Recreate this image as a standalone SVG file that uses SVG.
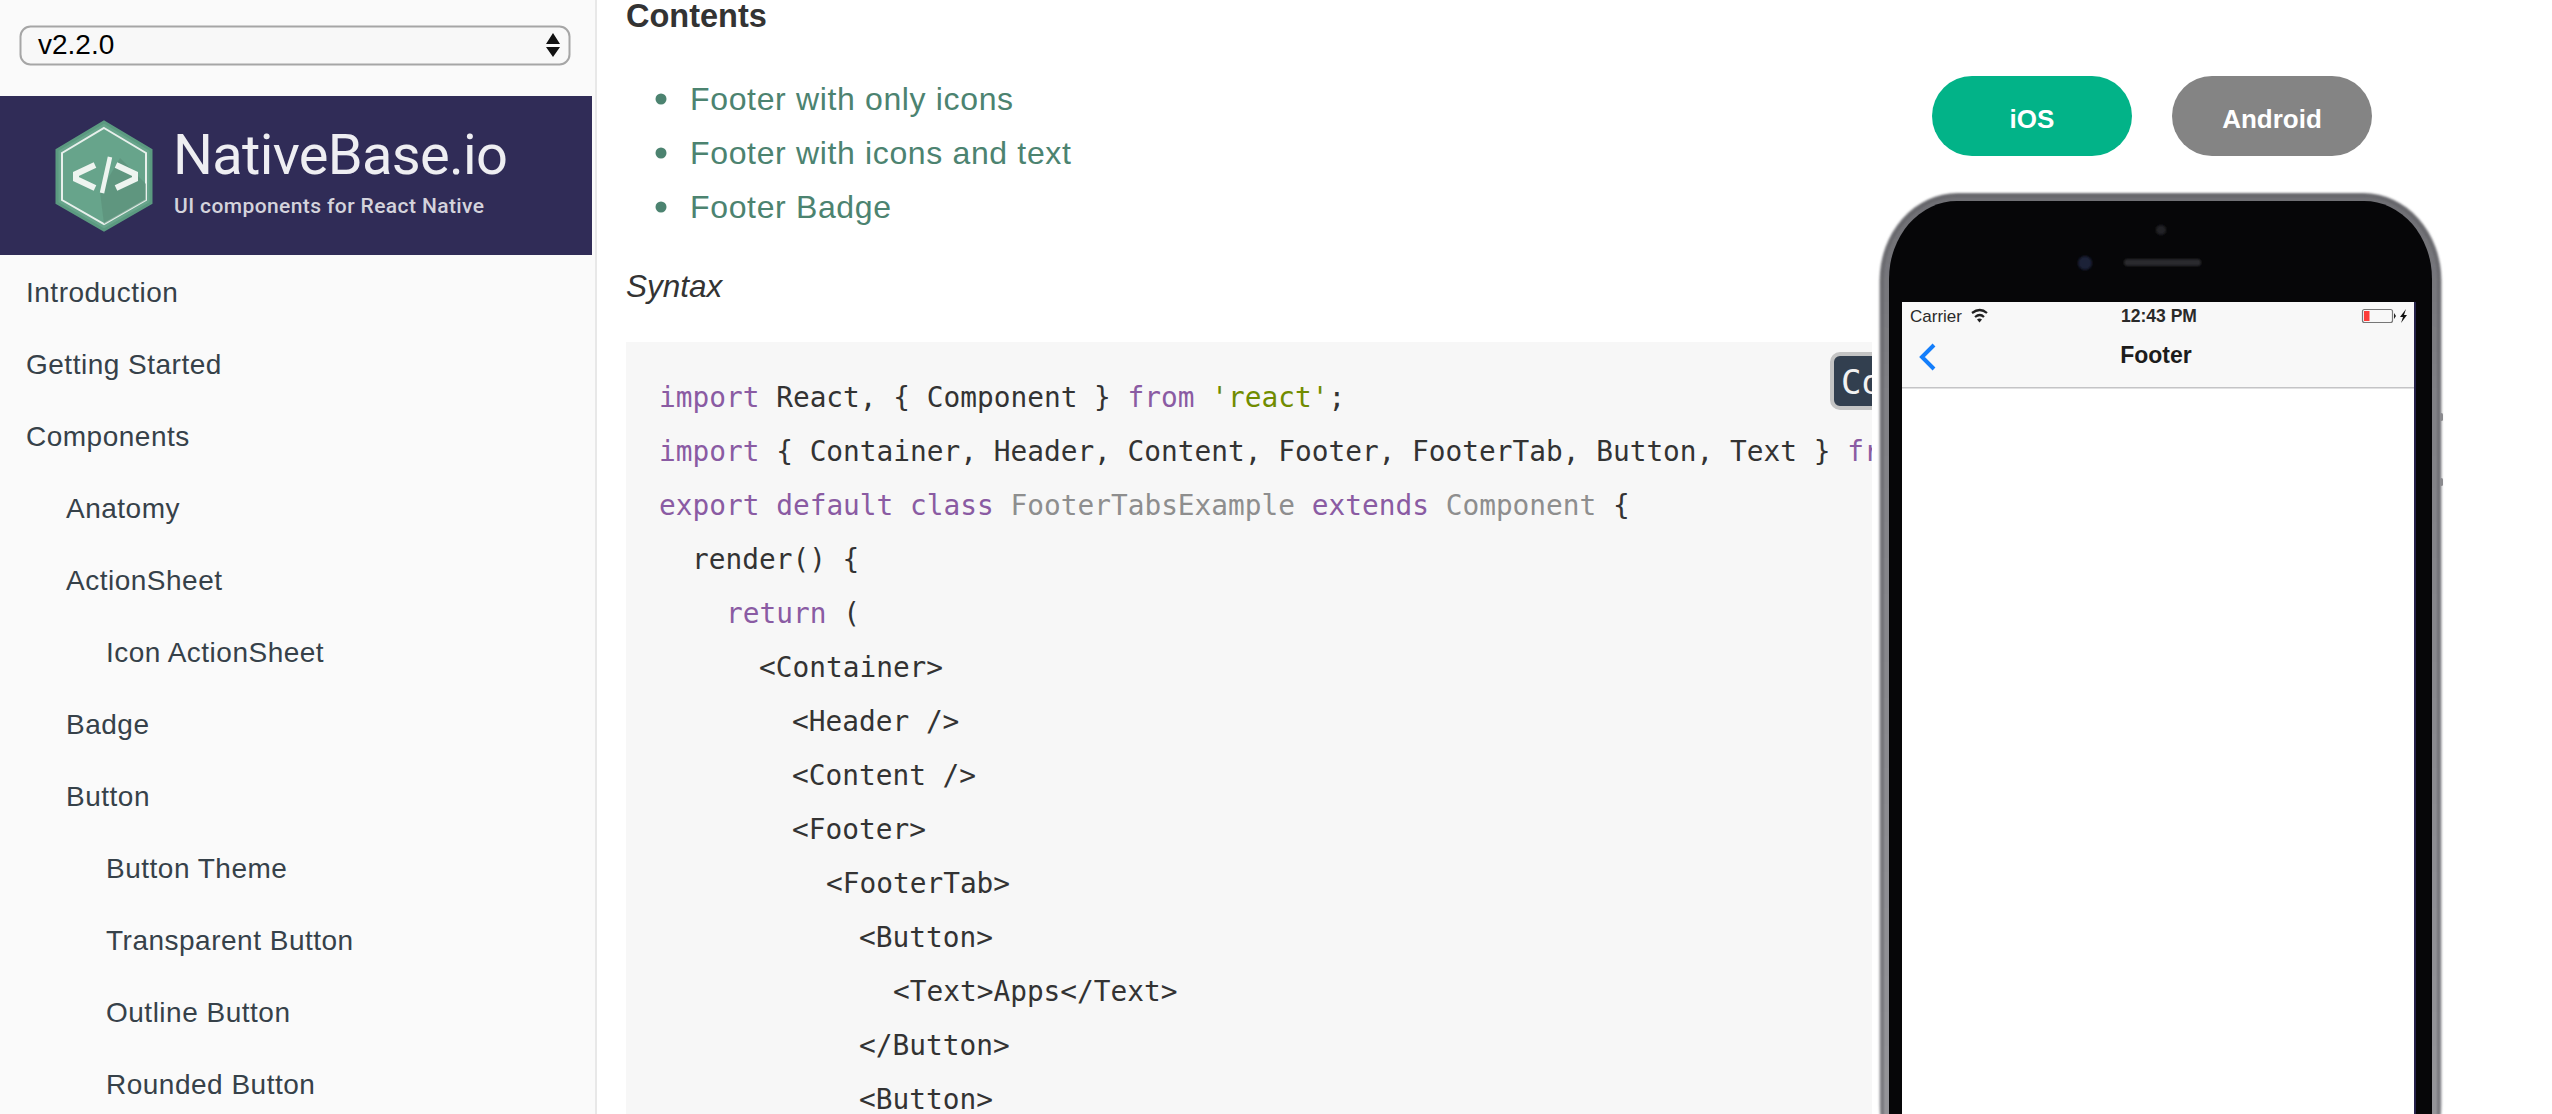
<svg xmlns="http://www.w3.org/2000/svg" width="2552" height="1114" viewBox="0 0 2552 1114">
<style>
text{font-family:"Liberation Sans",Arial,sans-serif}
.nav{font-size:28px;fill:#364149;letter-spacing:.5px}
.link{font-size:32px;fill:#4c8370;letter-spacing:.65px}
.code{font-family:"DejaVu Sans Mono",monospace;font-size:27.8px;fill:#333;white-space:pre}
.k{fill:#8a5ba3}.s{fill:#718c00}.c{fill:#8e8e8e}
.pill{font-size:26px;font-weight:bold;fill:#fff;text-anchor:middle}
</style>
<defs>
<clipPath id="pageclip"><rect x="596" y="0" width="1276" height="1114"/></clipPath>
<linearGradient id="rim" x1="0" x2="0" y1="0" y2="1"><stop offset="0" stop-color="#707075"/><stop offset=".2" stop-color="#808085"/><stop offset="1" stop-color="#97979c"/></linearGradient>
<filter id="soft" x="-5%" y="-5%" width="110%" height="110%"><feGaussianBlur stdDeviation="1"/></filter>
</defs>
<rect width="2552" height="1114" fill="#fff"/>
<g id="sidebar">
<rect width="595" height="1114" fill="#fafafa"/>
<rect x="595" width="2" height="1114" fill="#e8e8e8"/>
<rect x="20.500" y="26.500" width="549" height="38" rx="10" fill="#f8f8f8" stroke="#a6a6a6" stroke-width="2"/>
<text x="38" y="54" font-size="28" fill="#000">v2.2.0</text>
<path d="M546 44l7-11 7 11zM546 47h14l-7 10z" fill="#111"/>
<rect y="96" width="592" height="159" fill="#302c57"/>
<g id="logo">
<polygon points="104,122 151,150 151,203 104,230 57,203 57,150" fill="#67a48b" stroke="#5b9a80" stroke-width="3"/>
<polygon points="104,128 146,153 146,200 104,224 62,200 62,153" fill="none" stroke="#e8f0ec" stroke-width="2"/>
<path d="M100 192l20-34 26 26 0 16-42 24z" fill="#5a8d78" opacity=".6"/>
<path d="M95 165l-19 9v5l19 9" fill="none" stroke="#eef4f0" stroke-width="6"/>
<path d="M116 165l19 9v5l-19 9" fill="none" stroke="#eef4f0" stroke-width="6"/>
<path d="M110 157l-8 36" fill="none" stroke="#eef4f0" stroke-width="4.500"/>
<text x="173" y="174" font-size="56" fill="#eeeef2" style="font-family:Roboto,sans-serif" textLength="335">NativeBase.io</text>
<text x="174" y="213" font-size="21" fill="#d4d3dc" style="font-family:Roboto,sans-serif;font-weight:500" textLength="310">UI components for React Native</text>
</g>
<text class="nav" x="26" y="302">Introduction</text>
<text class="nav" x="26" y="374">Getting Started</text>
<text class="nav" x="26" y="446">Components</text>
<text class="nav" x="66" y="518">Anatomy</text>
<text class="nav" x="66" y="590">ActionSheet</text>
<text class="nav" x="106" y="662">Icon ActionSheet</text>
<text class="nav" x="66" y="734">Badge</text>
<text class="nav" x="66" y="806">Button</text>
<text class="nav" x="106" y="878">Button Theme</text>
<text class="nav" x="106" y="950">Transparent Button</text>
<text class="nav" x="106" y="1022">Outline Button</text>
<text class="nav" x="106" y="1094">Rounded Button</text>
</g>
<g id="content">
<text x="626" y="27" font-size="32.500" font-weight="bold" fill="#333">Contents</text>
<circle cx="661" cy="99" r="5.500" fill="#4c8370"/>
<circle cx="661" cy="153" r="5.500" fill="#4c8370"/>
<circle cx="661" cy="207" r="5.500" fill="#4c8370"/>
<text class="link" x="690" y="110">Footer with only icons</text>
<text class="link" x="690" y="164">Footer with icons and text</text>
<text class="link" x="690" y="218">Footer Badge</text>
<text x="626" y="297" font-size="31.500" font-style="italic" fill="#333">Syntax</text>
</g>
<g id="code" clip-path="url(#pageclip)">
<rect x="626" y="342" width="1300" height="772" fill="#f7f7f7"/>
<g xml:space="preserve">
<text class="code" x="659" y="407"><tspan class="k">import</tspan> React, { Component } <tspan class="k">from</tspan> <tspan class="s">'react'</tspan>;</text>
<text class="code" x="659" y="461"><tspan class="k">import</tspan> { Container, Header, Content, Footer, FooterTab, Button, Text } <tspan class="k">fr</tspan></text>
<text class="code" x="659" y="515"><tspan class="k">export</tspan> <tspan class="k">default</tspan> <tspan class="k">class</tspan> <tspan class="c">FooterTabsExample</tspan> <tspan class="k">extends</tspan> <tspan class="c">Component</tspan> {</text>
<text class="code" x="692" y="569">render() {</text>
<text class="code" x="726" y="623"><tspan class="k">return</tspan> (</text>
<text class="code" x="759" y="677">&lt;Container&gt;</text>
<text class="code" x="792" y="731">&lt;Header /&gt;</text>
<text class="code" x="792" y="785">&lt;Content /&gt;</text>
<text class="code" x="792" y="839">&lt;Footer&gt;</text>
<text class="code" x="826" y="893">&lt;FooterTab&gt;</text>
<text class="code" x="859" y="947">&lt;Button&gt;</text>
<text class="code" x="893" y="1001">&lt;Text&gt;Apps&lt;/Text&gt;</text>
<text class="code" x="859" y="1055">&lt;/Button&gt;</text>
<text class="code" x="859" y="1109">&lt;Button&gt;</text>
</g>
<rect x="1832" y="354" width="60" height="54" rx="8" fill="#323f4f" stroke="#c4c4c4" stroke-width="4"/>
<text class="code" x="1841" y="394" style="font-size:34px;fill:#f2f2f2">Co</text>
</g>
<g id="toggle">
<rect x="1932" y="76" width="200" height="80" rx="40" fill="#02b388"/>
<text class="pill" x="2032" y="128">iOS</text>
<rect x="2172" y="76" width="200" height="80" rx="40" fill="#848484"/>
<text class="pill" x="2272" y="128">Android</text>
</g>
<g id="phone">
<rect x="1879.500" y="193" width="562" height="1000" rx="78" ry="88" fill="url(#rim)" filter="url(#soft)"/>
<rect x="1882.500" y="196" width="556" height="1000" rx="75" ry="85" fill="none" stroke="#5f5f63" stroke-width="1.500" filter="url(#soft)"/>
<rect x="1889" y="201" width="543" height="1000" rx="68" ry="78" fill="#060608"/>
<rect x="2412" y="302" width="4" height="812" fill="#232048"/>
<rect x="1902" y="302" width="512" height="812" fill="#fff"/>
<rect x="1902" y="302" width="512" height="86" fill="#f8f8f8"/>
<rect x="1902" y="387" width="512" height="1.500" fill="#c4c4c6"/>
<circle cx="2161" cy="230" r="5" fill="#232326" filter="url(#soft)"/>
<circle cx="2085" cy="263" r="7" fill="#1a2138" filter="url(#soft)"/>
<rect x="2124" y="259" width="77" height="7" rx="3.500" fill="#2c2c2e" filter="url(#soft)"/>
<text x="1910" y="322" font-size="17" fill="#2a2a2a">Carrier</text>
<path d="M1972 313q8-6 15 0M1975 317q5-4 9 0" fill="none" stroke="#222" stroke-width="2.200"/>
<path d="M1977 319.500q2.500-2 5 0l-2.500 3z" fill="#222"/>
<text x="2159" y="322" font-size="17.500" font-weight="bold" fill="#2a2a2a" text-anchor="middle">12:43 PM</text>
<rect x="2362.500" y="309.500" width="30" height="13" rx="2" fill="none" stroke="#777" stroke-width="1.200"/>
<rect x="2364" y="311" width="5.500" height="10" fill="#fc3d39"/>
<path d="M2394 313l2 3-2 3z" fill="#222"/>
<path d="M2406 309l-6 8h3l-2 6 6-8h-3z" fill="#111"/>
<text x="2156" y="363" font-size="23" font-weight="bold" fill="#1c1c1c" text-anchor="middle">Footer</text>
<path d="M1934 345l-12 12 12 12" fill="none" stroke="#147efb" stroke-width="4"/>
<rect x="2440" y="413" width="3" height="8" rx="1.500" fill="#8a8a8e"/>
<rect x="2440" y="478" width="3" height="8" rx="1.500" fill="#8a8a8e"/>
</g>
</svg>
